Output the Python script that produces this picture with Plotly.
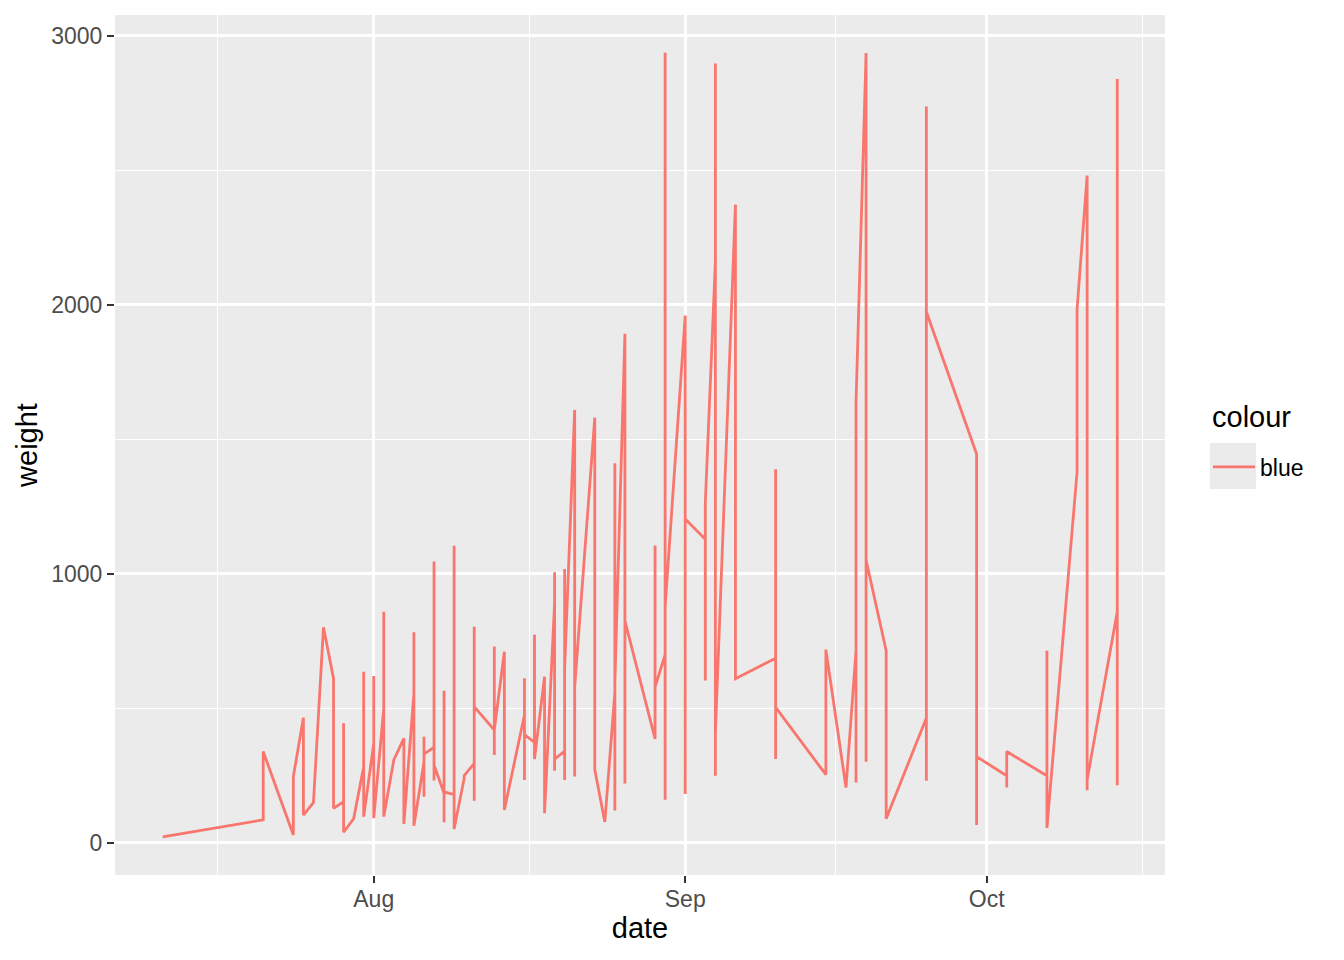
import plotly.graph_objects as go

# one entry per observation, in the order the line visits them
dates = (
    ["2023-07-11"] + ["2023-07-21"] * 2 + ["2023-07-24"] * 2 + ["2023-07-25"] * 2
    + ["2023-07-26", "2023-07-27"] + ["2023-07-28"] * 2 + ["2023-07-29"] * 3
    + ["2023-07-30"] + ["2023-07-31"] * 3 + ["2023-08-01"] * 3 + ["2023-08-02"] * 3
    + ["2023-08-03"] + ["2023-08-04"] * 2 + ["2023-08-05"] * 3 + ["2023-08-06"] * 4
    + ["2023-08-07"] * 4 + ["2023-08-08"] * 4 + ["2023-08-09"] * 3 + ["2023-08-10"] * 2
    + ["2023-08-11"] * 4 + ["2023-08-13"] * 4 + ["2023-08-14"] * 2 + ["2023-08-16"] * 4
    + ["2023-08-17"] * 3 + ["2023-08-18"] * 2 + ["2023-08-19"] * 4 + ["2023-08-20"] * 4
    + ["2023-08-21"] * 3 + ["2023-08-23"] * 2 + ["2023-08-24"] + ["2023-08-25"] * 4
    + ["2023-08-26"] * 3 + ["2023-08-29"] * 3 + ["2023-08-30"] * 4 + ["2023-09-01"] * 3
    + ["2023-09-03"] * 3 + ["2023-09-04"] * 4 + ["2023-09-06"] * 2 + ["2023-09-10"] * 4
    + ["2023-09-15"] * 2 + ["2023-09-17"] + ["2023-09-18"] * 3 + ["2023-09-19"] * 3
    + ["2023-09-21"] * 2 + ["2023-09-25"] * 4 + ["2023-09-30"] * 3 + ["2023-10-03"] * 3
    + ["2023-10-07"] * 3 + ["2023-10-10"] * 2 + ["2023-10-11"] * 3 + ["2023-10-14"] * 3
)
weights = [
    23, 86, 340, 30, 247, 466, 104,
    150, 802, 612, 129, 154, 445, 40,
    90, 283, 637, 98, 370, 621, 92, 500, 860, 98,
    309, 389, 71, 556, 783, 64, 300, 395, 172, 330,
    356, 1046, 232, 290, 185, 566, 77, 190, 180, 1105, 52, 240, 250,
    296, 804, 157, 507, 420, 730, 327, 420, 711, 123, 476, 612, 234, 403,
    374, 774, 312, 618, 111, 891, 1006, 269, 312, 342, 1019, 234, 650,
    1610, 247, 580, 1581, 273, 78, 560, 1412, 121, 600,
    1893, 221, 826, 387, 1106, 580, 700, 2938, 161, 878, 1961, 182, 1204,
    1129, 604, 1264, 2158, 2898, 250, 408, 2373, 611, 687, 1389, 312, 504,
    254, 719, 206, 715, 225, 1638, 2937, 302, 1052,
    715, 90, 465, 2738, 231, 1975, 1446, 67, 321, 250, 206, 340,
    250, 715, 56, 1379, 1985, 2481, 196, 235, 860, 2840, 215,
]

x_ticks = ["2023-08-01", "2023-09-01", "2023-10-01"]
x_labels = ["Aug", "Sep", "Oct"]
x_minor = ["2023-07-16 12:00", "2023-08-16 12:00", "2023-09-16", "2023-10-16 12:00"]
y_ticks = [0, 1000, 2000, 3000]
y_minor = [500, 1500, 2500]

fig = go.Figure()
fig.add_trace(go.Scatter(
    x=dates, y=weights, mode="lines", name="blue",
    line=dict(color="#F8766D", width=2.8),
))

font = "Liberation Sans, Arial, sans-serif"
axis_common = dict(
    showgrid=True, gridcolor="white", gridwidth=2.8,
    zeroline=False, showline=False,
    ticks="outside", ticklen=7, tickwidth=2.3, tickcolor="#333333",
    tickfont=dict(family=font, size=23, color="#4D4D4D"),
)

fig.update_layout(
    width=1344, height=960,
    margin=dict(l=115, r=179, t=15, b=85),
    paper_bgcolor="white", plot_bgcolor="#EBEBEB",
    font=dict(family=font, color="black"),
    showlegend=True,
    legend=dict(
        font=dict(size=23, color="black"),
        xref="container", yref="container",
        x=1208 / 1344, xanchor="left", y=1 - 467 / 960, yanchor="middle",
        bgcolor="rgba(0,0,0,0)", itemwidth=42,
    ),
    xaxis=dict(
        **axis_common, type="date",
        range=["2023-07-06 06:00", "2023-10-18 18:00"],
        tickmode="array", tickvals=x_ticks, ticktext=x_labels,
        ticklabelstandoff=-4,
        minor=dict(tickmode="array", tickvals=x_minor, showgrid=True,
                   gridcolor="white", gridwidth=1.4, ticks=""),
        title=dict(text="date", font=dict(size=29, color="black"), standoff=6),
    ),
    yaxis=dict(
        **axis_common,
        range=[-119, 3078],
        tickmode="array", tickvals=y_ticks,
        minor=dict(tickmode="array", tickvals=y_minor, showgrid=True,
                   gridcolor="white", gridwidth=1.4, ticks=""),
        title=dict(text="weight", font=dict(size=29, color="black"), standoff=5),
    ),
    annotations=[dict(
        text="colour", xref="paper", yref="paper", x=1.0429, y=0.5326,
        xanchor="left", yanchor="middle", showarrow=False,
        font=dict(size=29, color="black"),
    )],
    shapes=[dict(
        type="rect", xref="paper", yref="paper", layer="below",
        x0=1.0429, x1=1.0867, y0=0.4488, y1=0.5023,
        fillcolor="#EBEBEB", line=dict(width=0),
    )],
)

fig.write_html("out.html", config={"displayModeBar": False},
               post_script="document.body.style.margin='0';")
